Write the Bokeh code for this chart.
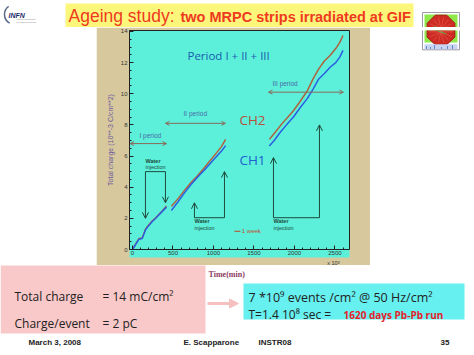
import numpy as np
from bokeh.plotting import figure
from bokeh.layouts import column, row
from bokeh.models import (Label, Arrow, OpenHead, NormalHead, Range1d, SingleIntervalTicker, Title)
from bokeh.embed import file_html
from bokeh.resources import INLINE

# ---------------- data ----------------
seg1_x   = [0, 40, 80, 120, 160, 200, 245, 290, 330, 375, 420]
seg1_ch2 = [0, 0.36, 0.70, 0.74, 1.30, 1.58, 1.84, 2.05, 2.28, 2.52, 2.80]
seg1_ch1 = [0, 0.33, 0.66, 0.70, 1.25, 1.53, 1.80, 2.02, 2.24, 2.48, 2.72]

seg2_x   = [480, 560, 640, 720, 800, 880, 960, 1040, 1100, 1150]
seg2_ch2 = [2.78, 3.25, 3.78, 4.28, 4.72, 5.20, 5.72, 6.22, 6.62, 7.07]
seg2_ch1 = [2.50, 3.05, 3.62, 4.15, 4.62, 5.05, 5.52, 5.98, 6.32, 6.67]

seg3_x   = [1690, 1750, 1830, 1910, 1990, 2070, 2160, 2230, 2300, 2370, 2440, 2510, 2560, 2600]
seg3_ch2 = [7.07, 7.45, 7.97, 8.45, 8.92, 9.50, 10.20, 10.95, 11.60, 12.10, 12.45, 12.90, 13.30, 13.74]
seg3_ch1 = [6.65, 7.00, 7.56, 8.05, 8.52, 9.10, 9.70, 10.30, 10.95, 11.30, 11.70, 12.00, 12.35, 12.78]

y_ticks_step = 2
x_ticks_step = 500

CH2_COLOR = "#b0603c"
CH1_COLOR = "#2a5ee0"

# ---------------- helpers ----------------
def panel(x0, x1, y0, y1):
    f = figure(width=x1 - x0, height=y1 - y0, x_range=Range1d(x0, x1),
               y_range=Range1d(y1, y0), output_backend="svg", toolbar_location=None,
               x_axis_location=None, y_axis_location=None, min_border=0)
    f.grid.visible = False
    f.outline_line_color = None
    f.background_fill_color = "white"
    f.border_fill_color = "white"
    return f

def txt(f, x, y, s, size, color="#222222", font="Open Sans", style="normal",
        align="left", baseline="alphabetic"):
    f.add_layout(Label(x=x, y=y, text=s, text_font=font, text_font_size=f"{size}px",
                       text_color=color, text_font_style=style, text_align=align,
                       text_baseline=baseline))

def draw_alice(f):
    f.quad(left=[422], right=[459], top=[12], bottom=[48], fill_color="white",
           line_color="#9a9aa8", line_width=1)
    f.quad(left=[424], right=[457], top=[14], bottom=[40], fill_color="#8ee84a",
           line_color=None)
    ang = np.pi / 8 + np.arange(8) * np.pi / 4
    f.patch(440.5 + 15 * np.cos(ang), 28.5 + 15 * np.sin(ang), fill_color="#cc2a22",
            line_color="#aa1a1a")
    for a in np.linspace(0, 2 * np.pi, 14, endpoint=False):
        f.segment(x0=[440.5], y0=[28.5], x1=[440.5 + 12 * np.cos(a)],
                  y1=[28.5 + 12 * np.sin(a)], line_color="#e86050", line_width=0.6)
    f.segment(x0=[434], y0=[26], x1=[446], y1=[31], line_color="#44bb44", line_width=0.8)
    f.quad(left=[424], right=[457], top=[42], bottom=[47], fill_color="#c8d4f0",
           line_color=None)
    for xx, hh in [(426, 3), (430, 2), (434, 4), (441, 2), (447, 3), (452, 4)]:
        f.segment(x0=[xx], y0=[47], x1=[xx], y1=[47 - hh], line_color="#6080d0", line_width=1)

# ---------------- header ----------------
head = panel(0, 474, 0, 27)
head.quad(left=[65], right=[413], top=[3], bottom=[27], fill_color="#fcf67a", line_color=None)
txt(head, 68, 15, "Ageing study:", 17.5, color="#ee3a1e", font="Liberation Sans",
    baseline="middle")
txt(head, 180, 16, "two MRPC strips irradiated at GIF", 14.5, color="#ee3a1e",
    font="Liberation Sans", style="bold", baseline="middle")
head.arc(x=[14], y=[14], radius=10, start_angle=2.2, end_angle=4.2,
         line_color="#5a6a8a", line_width=1.5)
txt(head, 8, 15, "INFN", 7, color="#1a2a6a", font="Liberation Sans", style="bold italic")
txt(head, 16, 19, "Istituto Nazionale", 2.5, color="#888888", font="Liberation Sans")
txt(head, 16, 21.5, "di Fisica Nucleare", 2.5, color="#888888", font="Liberation Sans")
draw_alice(head)

# ---------------- side panels ----------------
left = panel(0, 96, 27, 265)
right = panel(370, 474, 27, 265)
draw_alice(right)

# ---------------- chart ----------------
p = figure(width=274, height=238, x_range=Range1d(-37, 2680), y_range=Range1d(0, 14.06),
           output_backend="svg", toolbar_location=None,
           min_border_left=33, min_border_right=21, min_border_top=3, min_border_bottom=15)
p.background_fill_color = "#5cf0da"
p.border_fill_color = "#d8c89e"
p.outline_line_color = "#222222"
p.grid.visible = False

p.add_layout(Title(text="x 10³", align="right", offset=10, standoff=0,
                   text_font="Liberation Sans", text_font_size="5.5px",
                   text_font_style="normal", text_color="#333333"), "below")

p.xaxis.ticker = SingleIntervalTicker(interval=x_ticks_step, num_minor_ticks=5)
p.yaxis.ticker = SingleIntervalTicker(interval=y_ticks_step, num_minor_ticks=4)
for ax in (p.xaxis[0], p.yaxis[0]):
    ax.major_tick_in = 4
    ax.major_tick_out = 0
    ax.minor_tick_in = 2
    ax.minor_tick_out = 0
    ax.axis_line_color = "#222222"
    ax.major_tick_line_color = "#222222"
    ax.minor_tick_line_color = "#222222"
    ax.major_label_text_font = "Liberation Sans"
    ax.major_label_text_font_size = "6px"
    ax.major_label_text_color = "#333333"
    ax.major_label_standoff = 2
p.xaxis.background_fill_color = "#5cf0da"
p.xaxis.major_label_standoff = 1
p.yaxis.axis_label = "Total charge (10**-3 C/cm**2)"
p.yaxis.axis_label_text_font = "Liberation Sans"
p.yaxis.axis_label_text_font_size = "7px"
p.yaxis.axis_label_text_font_style = "normal"
p.yaxis.axis_label_text_color = "#6a5c9c"
p.yaxis.axis_label_standoff = 4

for xs, c2, c1 in [(seg1_x, seg1_ch2, seg1_ch1), (seg2_x, seg2_ch2, seg2_ch1),
                   (seg3_x, seg3_ch2, seg3_ch1)]:
    p.line(xs, c2, line_color=CH2_COLOR, line_width=1.5)
    p.line(xs, c1, line_color=CH1_COLOR, line_width=1.5)

def lab(x, y, s, size, color, font="Liberation Sans", style="normal", baseline="middle"):
    p.add_layout(Label(x=x, y=y, text=s, text_font=font, text_font_size=f"{size}px",
                       text_color=color, text_font_style=style, text_baseline=baseline))

lab(679, 12.46, "Period  I + II + III", 11.5, "#1a5cb0", font="Open Sans")
lab(1320, 8.3, "CH2", 13.5, "#b8503a", font="Open Sans")
lab(1320, 5.75, "CH1", 13.5, "#1e5fd0", font="Open Sans")

PER_COL = "#4a6aa8"
ARR_COL = "#8a6a5a"
lab(1728, 10.68, "III period", 6.5, PER_COL)
lab(630, 8.72, "II period", 6.5, PER_COL)
lab(86, 7.33, "I period", 6.5, PER_COL)
for xa, xb, yy in [(1679, 2605, 10.1), (407, 1148, 8.1), (-30, 420, 6.8)]:
    p.add_layout(Arrow(start=OpenHead(size=4, line_color=ARR_COL, line_width=1),
                       end=OpenHead(size=4, line_color=ARR_COL, line_width=1),
                       x_start=xa, y_start=yy, x_end=xb, y_end=yy,
                       line_color=ARR_COL, line_width=1))

WI_COL = "#1f4a3c"
def wi_text(x, y_top):
    lab(x, y_top, "Water", 5.5, WI_COL, style="bold")
    lab(x, y_top - 0.42, "injection", 5.5, WI_COL)

def arr(x, y0, y1):
    p.add_layout(Arrow(end=OpenHead(size=6, line_color=WI_COL, line_width=1),
                       x_start=x, y_start=y0, x_end=x, y_end=y1,
                       line_color=WI_COL, line_width=1))

# water injection 1 (bracket on top, arrows pointing down)
wi_text(160, 5.69)
p.segment(x0=[160], y0=[5.0], x1=[407], y1=[5.0], line_color=WI_COL, line_width=1)
arr(160, 5.0, 2.0)
arr(407, 5.0, 3.0)
# water injection 2
wi_text(765, 1.81)
p.segment(x0=[765], y0=[2.04], x1=[1136], y1=[2.04], line_color=WI_COL, line_width=1)
arr(765, 2.04, 3.0)
arr(1136, 2.04, 5.0)
# water injection 3
wi_text(1741, 1.81)
p.segment(x0=[1741], y0=[2.04], x1=[2309], y1=[2.04], line_color=WI_COL, line_width=1)
arr(1741, 2.04, 5.9)
arr(2309, 2.04, 8.0)
# 1 week
p.segment(x0=[1259], y0=[1.17], x1=[1333], y1=[1.17], line_color="#c04a2a", line_width=1)
lab(1350, 1.17, "1 week", 6, "#c04a2a")

# ---------------- footer ----------------
foot = panel(0, 474, 265, 355)
foot.quad(left=[0], right=[205], top=[263], bottom=[333], fill_color="#f9c9c9", line_color=None)
foot.add_layout(Arrow(end=NormalHead(size=9, fill_color="#f6c0c0", line_color="#f6c0c0"),
                      x_start=207, y_start=303, x_end=238, y_end=303,
                      line_color="#f6c0c0", line_width=3))
foot.quad(left=[243], right=[464], top=[283], bottom=[319], fill_color="#66f0f0", line_color=None)
txt(foot, 208, 274, "Time(min)", 8, color="#8b3a62", font="Liberation Serif", style="bold")
txt(foot, 14, 296, "Total charge", 12)
txt(foot, 102, 296, "= 14 mC/cm²", 12)
txt(foot, 14, 323, "Charge/event", 12)
txt(foot, 102, 323, "= 2 pC", 12)
txt(foot, 248, 297, "7 *10⁹ events /cm²  @ 50 Hz/cm²", 12.5)
txt(foot, 248, 314, "T=1.4 10⁸ sec =", 12)
txt(foot, 343, 314, "1620 days Pb-Pb run", 10, color="#e8202a", style="bold")
txt(foot, 28, 342, "March 3, 2008", 8, font="Liberation Sans", style="bold")
txt(foot, 183, 342, "E. Scapparone", 8, font="Liberation Sans", style="bold")
txt(foot, 258, 342, "INSTR08", 8, font="Liberation Sans", style="bold")
txt(foot, 440, 342, "35", 8, font="Liberation Sans", style="bold")

layout = column(head, row(left, p, right), foot)
open("out.html", "w").write(file_html(layout, INLINE))
